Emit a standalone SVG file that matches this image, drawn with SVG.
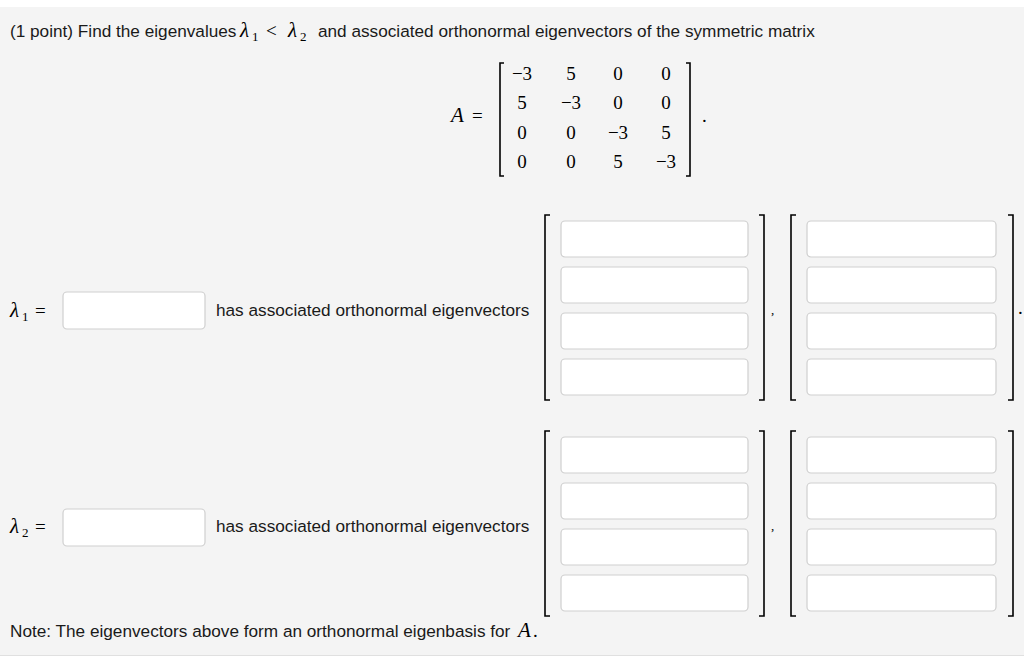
<svg xmlns="http://www.w3.org/2000/svg" width="1024" height="663" viewBox="0 0 1024 663">
<style>
.t{font-family:"Liberation Sans",Arial,sans-serif;font-size:17.2px;fill:#1a1a1a}
.m{font-family:"Liberation Serif","DejaVu Serif",serif;font-size:19px;fill:#000}
.s{font-family:"Liberation Serif","DejaVu Serif",serif;font-size:13px;fill:#000}
.mi{font-family:"Liberation Serif","DejaVu Serif",serif;font-size:21px;font-style:italic;fill:#000}
.b{fill:#fff;stroke:#cfcfcf;stroke-width:1.2}
.br{fill:none;stroke:#000;stroke-width:1.6}
</style>
<rect width="1024" height="663" fill="#fff"/>
<rect x="0" y="7" width="1024" height="648" fill="#f4f4f4"/>
<line x1="0" y1="655.5" x2="1024" y2="655.5" stroke="#e0e0e0"/>
<text class="t" x="10" y="37">(1 point) Find the eigenvalues</text>
<text class="mi" x="240" y="37">λ</text><text class="s" x="252" y="41">1</text>
<text class="m" x="266" y="37">&lt;</text>
<text class="mi" x="288" y="37">λ</text><text class="s" x="300" y="41">2</text>
<text class="t" x="318" y="37">and associated orthonormal eigenvectors of the symmetric matrix</text>
<text class="mi" x="451" y="122">A</text><text class="m" x="472" y="122">=</text>
<path class="br" d="M504,63 H500 V176 H504 M686,63 H690 V176 H686"/>
<g class="m" text-anchor="middle">
<text x="522" y="80">−3</text><text x="571" y="80">5</text><text x="618" y="80">0</text><text x="666" y="80">0</text>
<text x="522" y="109">5</text><text x="571" y="109">−3</text><text x="618" y="109">0</text><text x="666" y="109">0</text>
<text x="522" y="139">0</text><text x="571" y="139">0</text><text x="618" y="139">−3</text><text x="666" y="139">5</text>
<text x="522" y="168">0</text><text x="571" y="168">0</text><text x="618" y="168">5</text><text x="666" y="168">−3</text>
</g>
<text class="m" x="702" y="122">.</text>
<text class="mi" x="10" y="317">λ</text><text class="s" x="22" y="321">1</text><text class="m" x="35" y="317">=</text>
<rect class="b" x="63" y="292" width="142" height="37" rx="4"/>
<text class="t" x="216" y="316">has associated orthonormal eigenvectors</text>
<text class="mi" x="10" y="533">λ</text><text class="s" x="22" y="537">2</text><text class="m" x="35" y="533">=</text>
<rect class="b" x="63" y="509" width="142" height="37" rx="4"/>
<text class="t" x="216" y="532">has associated orthonormal eigenvectors</text>
<g id="v1">
<path class="br" d="M550,215 H545 V400 H550 M759,215 H764 V400 H759 M796,215 H791 V400 H796 M1008,215 H1013 V400 H1008"/>
<rect class="b" x="561" y="221" width="187" height="36" rx="4"/><rect class="b" x="561" y="267" width="187" height="36" rx="4"/>
<rect class="b" x="561" y="313" width="187" height="36" rx="4"/><rect class="b" x="561" y="359" width="187" height="36" rx="4"/>
<rect class="b" x="807" y="221" width="189" height="36" rx="4"/><rect class="b" x="807" y="267" width="189" height="36" rx="4"/>
<rect class="b" x="807" y="313" width="189" height="36" rx="4"/><rect class="b" x="807" y="359" width="189" height="36" rx="4"/>
<text class="s" x="771" y="314">,</text><text class="m" x="1018" y="314">.</text>
</g>
<g id="v2">
<path class="br" d="M550,431 H545 V616 H550 M759,431 H764 V616 H759 M796,431 H791 V616 H796 M1008,431 H1013 V616 H1008"/>
<rect class="b" x="561" y="437" width="187" height="36" rx="4"/><rect class="b" x="561" y="483" width="187" height="36" rx="4"/>
<rect class="b" x="561" y="529" width="187" height="36" rx="4"/><rect class="b" x="561" y="575" width="187" height="36" rx="4"/>
<rect class="b" x="807" y="437" width="189" height="36" rx="4"/><rect class="b" x="807" y="483" width="189" height="36" rx="4"/>
<rect class="b" x="807" y="529" width="189" height="36" rx="4"/><rect class="b" x="807" y="575" width="189" height="36" rx="4"/>
<text class="s" x="771" y="530">,</text>
</g>
<text class="t" x="10" y="637">Note: The eigenvectors above form an orthonormal eigenbasis for</text>
<text class="mi" x="518" y="637">A</text><text class="m" x="533" y="637">.</text>
</svg>
